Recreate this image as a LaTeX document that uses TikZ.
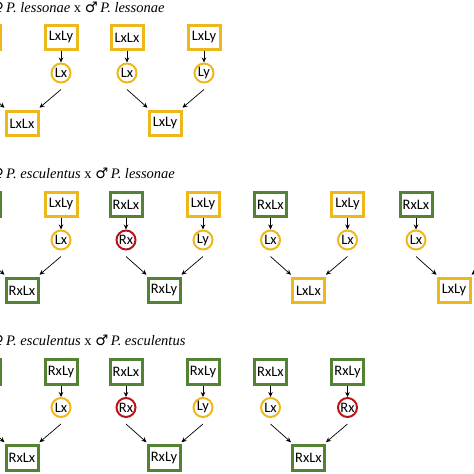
\documentclass[tikz,border=0pt]{standalone}
\usepackage{fontspec}
\setmainfont{Liberation Serif}
\newfontfamily\genofont{Carlito}
\newfontfamily\sexfont{DejaVu Sans}
\usetikzlibrary{calc,arrows.meta}
\definecolor{gold}{RGB}{238,184,28}
\definecolor{leafgreen}{RGB}{84,130,53}
\definecolor{darkred}{RGB}{185,20,30}

\begin{document}
\begin{tikzpicture}[x=1pt, y=-1pt, >={Stealth[length=5pt,width=4.5pt]},
    font=\genofont\fontsize{14.5}{17}\selectfont,
    geno/.style={draw, line width=3pt, minimum width=32pt, minimum height=24.5pt, inner sep=0pt},
    ybox/.style={geno, draw=gold},
    gbox/.style={geno, draw=leafgreen},
    gam/.style={circle, draw, line width=2pt, minimum size=19pt, inner sep=0pt},
    ygam/.style={gam, draw=gold},
    rgam/.style={gam, draw=darkred},
    title/.style={font=\rmfamily\fontsize{14.5}{17}\selectfont, anchor=base west, inner sep=0pt},
    sex/.style={font=\sexfont\fontsize{14}{17}\selectfont, anchor=base east, inner sep=0pt},
    arr/.style={->, line width=0.7pt}]
    \def\dP{77}   % female to male
    \def\dG{35.5} % parent to gamete
    \def\dC{86}   % parent to offspring
    \useasboundingbox (0,0) rectangle (474,474);
    \clip (0,0) rectangle (474,474);

    % Titles
    \node[sex] (fem1) at (4,12) {♀};
    \node[title] (t1) at (6,12) {\textit{P. lessonae} x {\sexfont ♂}\,\textit{P. lessonae}};
    \node[sex] (fem2) at (4,178) {♀};
    \node[title] (t2) at (6,178) {\textit{P. esculentus} x {\sexfont ♂}\,\textit{P. lessonae}};
    \node[sex] (fem3) at (4,345) {♀};
    \node[title] (t3) at (6,345) {\textit{P. esculentus} x {\sexfont ♂}\,\textit{P. esculentus}};

    % Crosses: female, her gamete, male, his gamete, offspring
    \foreach \i/\x/\y/\fs/\fl/\fgs/\fgl/\ms/\ml/\mgs/\mgl/\cs/\cl in {
        a1/-16/37.5/ybox/{}/ygam/{}/ybox/LxLy/ygam/Lx/ybox/LxLx,
        b1/127/37.5/ybox/LxLx/ygam/Lx/ybox/LxLy/ygam/Ly/ybox/LxLy,
        a2/-16/204.5/gbox/{}/rgam/{}/ybox/LxLy/ygam/Lx/gbox/RxLx,
        b2/126/204.5/gbox/RxLx/rgam/Rx/ybox/LxLy/ygam/Ly/gbox/RxLy,
        c2/270.5/204.5/gbox/RxLx/ygam/Lx/ybox/LxLy/ygam/Lx/ybox/LxLx,
        d2/416/204.5/gbox/RxLx/ygam/Lx/ybox/{}/ygam/{}/ybox/LxLy,
        a3/-16/372/gbox/{}/rgam/{}/gbox/RxLy/ygam/Lx/gbox/RxLx,
        b3/126/372/gbox/RxLx/rgam/Rx/gbox/RxLy/ygam/Ly/gbox/RxLy,
        c3/270.5/372/gbox/RxLx/ygam/Lx/gbox/RxLy/rgam/Rx/gbox/RxLx}
    {
        \node[\fs] (f\i) at (\x,\y) {\fl};
        \node[\fgs] (fg\i) at (\x,\y+\dG) {\fgl};
        \node[\ms] (m\i) at (\x+\dP,\y) {\ml};
        \node[\mgs] (mg\i) at (\x+\dP,\y+\dG) {\mgl};
        \node[\cs] (c\i) at (\x+38,\y+\dC) {\cl};
        \draw[arr] (f\i) -- (fg\i);
        \draw[arr] (m\i) -- (mg\i);
        \draw[arr] ($(fg\i.south)+(0,6)$) -- ($(c\i.north west)+(0,-2)$);
        \draw[arr] ($(mg\i.south)+(0,6)$) -- ($(c\i.north east)+(0,-2)$);
    }
\end{tikzpicture}
\end{document}
